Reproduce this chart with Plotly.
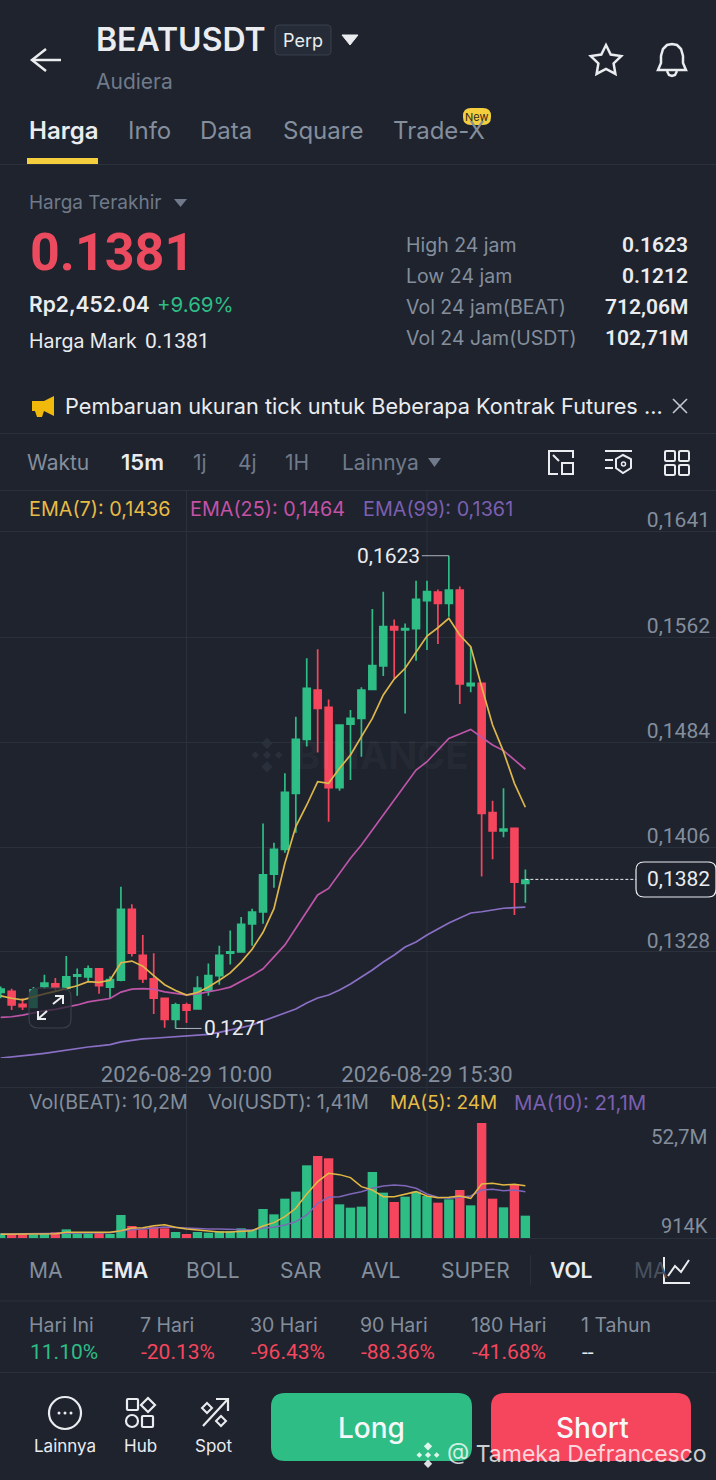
import math
import pandas as pd
import plotly.graph_objs as go

W, H = 716, 1480
FONT = 'Inter'
NUM = 'Roboto'
BG = '#1E232E'
GRID = '#2B313B'
UP = '#2EBD85'
DOWN = '#F6465D'
GREY = '#848E9C'
DIM = '#707A8A'
WHITE = '#EAECEF'
YELLOW = '#E6BC45'
PINK = '#C452A6'
PURPLE = '#7B5FB0'

# candles, 15m, first one is 05:45
times = pd.date_range('2026-08-29 05:45', periods=49, freq='15min')
opens = [.12978, .12986, .12890, .12867, .13023, .13043, .13011, .13099, .13094, .13154,
         .13018, .13069, .13597, .13255, .13079, .12935, .12777, .12885, .12855, .12993,
         .13104, .13270, .13280, .13489, .13577, .13859, .14044, .14461, .14863, .15230,
         .15101, .14503, .14975, .15019, .15235, .15409, .15702, .15677, .15687, .15895,
         .15960, .15875, .15975, .15262, .15280, .14317, .14181, .14200, .13790]
highs = [.13023, .13006, .12935, .13018, .13109, .13086, .13250, .13157, .13179, .13154,
         .13099, .13766, .13635, .13406, .13270, .12935, .12902, .12902, .13099, .13194,
         .13325, .13439, .13539, .13602, .14236, .14093, .14610, .15031, .15466, .15533,
         .15160, .14969, .15082, .15250, .15834, .15962, .15756, .15726, .16044, .16044,
         .15979, .16230, .16000, .15553, .15280, .14406, .14498, .14205, .13894]
lows = [.12935, .12847, .12847, .12867, .13003, .12986, .12993, .12953, .13061, .12968,
        .12935, .13061, .13245, .13048, .12817, .12716, .12710, .12751, .12855, .12953,
        .13036, .13187, .13280, .13325, .13489, .13758, .14019, .14168, .14809, .14764,
        .14250, .14480, .14560, .14734, .15230, .15335, .15317, .15056, .15448, .15528,
        .15573, .15776, .15126, .15213, .13841, .13970, .14133, .13555, .13646]
closes = [.13003, .12885, .12872, .12998, .13048, .13018, .13094, .13109, .13154, .13028,
          .13074, .13597, .13270, .13079, .12935, .12777, .12885, .12847, .13011, .13104,
          .13255, .13280, .13486, .13577, .13854, .14043, .14468, .14863, .15243, .15094,
          .14503, .14969, .15019, .15230, .15411, .15702, .15677, .15687, .15905, .15962,
          .15875, .15975, .15275, .15280, .14312, .14181, .14195, .13800, .13815]

ema7 = [.12953, .12935, .12923, .12948, .12968, .12986, .13006, .13028, .13059, .13053,
        .13069, .13199, .13212, .13174, .13104, .13036, .12993, .12958, .12978, .13018,
        .13069, .13124, .13204, .13300, .13426, .13602, .13940, .14213, .14374, .14548,
        .14535, .14647, .14746, .14883, .15019, .15193, .15312, .15392, .15515, .15632,
        .15694, .15764, .15640, .15553, .15255, .14969, .14771, .14535, .14357]
ema25 = [.12792, .12797, .12809, .12827, .12842, .12852, .12867, .12885, .12908, .12918,
         .12933, .12981, .13003, .13006, .13003, .12983, .12973, .12960, .12968, .12981,
         .12998, .13018, .13061, .13104, .13154, .13245, .13332, .13456, .13580, .13704,
         .13753, .13865, .13977, .14076, .14188, .14299, .14411, .14522, .14634, .14696,
         .14783, .14870, .14902, .14937, .14878, .14821, .14779, .14709, .14640]
ema99 = [.12490, .12497, .12505, .12515, .12525, .12537, .12550, .12562, .12572, .12580,
         .12590, .12610, .12622, .12632, .12637, .12643, .12646, .12651, .12656, .12666,
         .12681, .12696, .12716, .12736, .12764, .12794, .12825, .12855, .12900, .12937,
         .12959, .12996, .13041, .13093, .13145, .13205, .13257, .13316, .13354, .13406,
         .13451, .13495, .13533, .13570, .13579, .13592, .13605, .13609, .13614]

# volume in millions
volume = [2.14, 1.83, 1.83, 1.68, 1.99, 2.60, 3.97, 2.14, 2.14, 2.44,
          1.83, 10.54, 5.50, 3.97, 5.20, 4.43, 2.75, 1.83, 2.75, 2.44,
          3.06, 3.06, 4.43, 3.67, 13.29, 10.85, 18.03, 21.24, 33.31, 37.59,
          36.52, 15.43, 13.90, 14.36, 30.25, 20.78, 16.50, 18.95, 21.24, 19.25,
          16.20, 17.72, 22.00, 14.97, 52.70, 18.03, 14.06, 24.60, 10.24]
vol_ma5 = [1.68, 1.68, 1.68, 1.68, 1.83, 1.99, 2.60, 2.60, 2.60, 2.60,
           2.60, 3.36, 4.58, 4.74, 5.65, 6.11, 4.89, 4.13, 3.67, 3.06,
           2.75, 2.75, 3.06, 3.36, 5.50, 7.03, 9.78, 13.60, 20.17, 25.82,
           29.64, 29.03, 27.66, 23.53, 22.00, 18.95, 18.95, 20.17, 21.24, 19.25,
           18.49, 18.64, 19.25, 18.18, 24.75, 25.06, 24.30, 24.60, 23.99]
vol_ma10 = [1.83, 1.83, 1.83, 1.83, 1.83, 1.83, 2.14, 2.29, 2.44, 2.44,
            2.44, 3.36, 3.67, 4.13, 4.58, 5.04, 4.74, 4.43, 4.28, 4.13,
            4.13, 3.97, 3.82, 3.67, 4.58, 4.89, 5.96, 7.49, 10.54, 15.89,
            18.64, 18.95, 20.17, 21.24, 22.77, 23.84, 24.30, 23.99, 22.77, 20.17,
            18.64, 18.18, 18.64, 19.25, 22.00, 22.31, 21.70, 22.00, 21.24]

price_ticks = [.1249, .1328, .1406, .1484, .1562, .1641]
price_labels = ['0,1249', '0,1328', '0,1406', '0,1484', '0,1562', '0,1641']
time_ticks = ['2026-08-29 10:00', '2026-08-29 15:30']
last_price = .1382
last_label = '0,1382'


# everything outside the plots is laid out in screen pixels
def fx(x):
    return x / W


def fy(y):
    return 1 - y / H


def path(pts, close=False):
    s = 'M ' + ' L '.join(f'{fx(x):.5f} {fy(y):.5f}' for x, y in pts)
    return s + (' Z' if close else '')


def rrect(x0, y0, x1, y1, r):
    def p(x, y):
        return f'{fx(x):.5f} {fy(y):.5f}'
    return (f'M {p(x0 + r, y0)} L {p(x1 - r, y0)} Q {p(x1, y0)} {p(x1, y0 + r)} '
            f'L {p(x1, y1 - r)} Q {p(x1, y1)} {p(x1 - r, y1)} L {p(x0 + r, y1)} '
            f'Q {p(x0, y1)} {p(x0, y1 - r)} L {p(x0, y0 + r)} Q {p(x0, y0)} {p(x0 + r, y0)} Z')


shapes = []
notes = []


def draw(d, color=None, lw=0, fill=None, layer='above'):
    shapes.append(dict(type='path', xref='paper', yref='paper', path=d, layer=layer,
                       line=dict(color=color or 'rgba(0,0,0,0)', width=lw),
                       fillcolor=fill or 'rgba(0,0,0,0)'))


def hline(y, color=GRID):
    shapes.append(dict(type='line', xref='paper', yref='paper', x0=0, x1=1, y0=fy(y), y1=fy(y),
                       line=dict(color=color, width=1)))


def circle(cx, cy, r, color=None, lw=0, fill=None):
    shapes.append(dict(type='circle', xref='paper', yref='paper',
                       x0=fx(cx - r), x1=fx(cx + r), y0=fy(cy + r), y1=fy(cy - r),
                       line=dict(color=color or 'rgba(0,0,0,0)', width=lw),
                       fillcolor=fill or 'rgba(0,0,0,0)'))


def diamond(cx, cy, r, color=None, lw=0, fill=None, layer='above'):
    draw(path([(cx, cy - r), (cx + r, cy), (cx, cy + r), (cx - r, cy)], True), color, lw, fill, layer)


def logo(cx, cy, s, fill, layer='above'):
    diamond(cx, cy, s * .22, fill=fill, layer=layer)
    diamond(cx, cy - s * .62, s * .3, fill=fill, layer=layer)
    diamond(cx, cy + s * .62, s * .3, fill=fill, layer=layer)
    diamond(cx - s * .62, cy, s * .2, fill=fill, layer=layer)
    diamond(cx + s * .62, cy, s * .2, fill=fill, layer=layer)


def txt(x, y, s, size=19, color=WHITE, anchor='left', weight=400, family=FONT):
    # inter has a bit of side bearing on the left
    if anchor == 'left' and family == FONT:
        x -= 1
    notes.append(dict(xref='paper', yref='paper', x=fx(x), y=fy(y), text=s, showarrow=False,
                      xanchor=anchor, yanchor='middle', borderpad=0,
                      font=dict(family=family, size=size, color=color, weight=weight)))


# header
draw(path([(46, 49), (32, 60), (46, 71)]), WHITE, 2.5)
draw(path([(32, 60), (61, 60)]), WHITE, 2.5)
txt(96, 40, 'BEATUSDT', 32, WHITE, weight=600)
draw(rrect(275, 25, 331, 55, 4), '#3A414D', 1, '#262C37')
txt(303, 41, 'Perp', 18, WHITE, 'center')
draw(path([(342, 35), (358, 35), (350, 45)], True), WHITE, 1, WHITE)
txt(96, 82, 'Audiera', 21, DIM)
star = []
for i in range(10):
    r = 16 if i % 2 == 0 else 8
    a = -math.pi / 2 + i * math.pi / 5
    star.append((606 + r * math.cos(a), 61 + r * math.sin(a)))
draw(path(star, True), WHITE, 2.5)
draw(path([(658, 70), (661, 63), (661, 56), (663, 49), (667, 45), (672, 44), (677, 45), (681, 49),
           (683, 56), (683, 63), (686, 70)], True), WHITE, 2.5)
draw(path([(667, 71), (669, 75), (672, 76), (675, 75), (677, 71)]), WHITE, 2.5)

# tabs
txt(29, 130, 'Harga', 24, WHITE, weight=600)
for x, s in [(128, 'Info'), (200, 'Data'), (283, 'Square'), (393, 'Trade-X')]:
    txt(x, 130, s, 24, GREY)
draw(rrect(463, 108, 491, 125, 8), fill='#F5CE3E')
txt(477, 117, 'New', 11, '#2A2A20', 'center')
draw(path([(27, 158), (98, 158), (98, 164), (27, 164)], True), fill='#F5CE3E')
hline(164.5)

# price block
txt(29, 203, 'Harga Terakhir', 19, DIM)
draw(path([(174, 199), (187, 199), (180.5, 207)], True), fill=DIM)
txt(29, 252, '0.1381', 52, '#EC4A5E', weight=700, family=NUM)
txt(29, 304, 'Rp2,452.04', 21, WHITE, weight=600)
txt(157, 304, '+9.69%', 20.5, UP)
txt(29, 341, 'Harga Mark', 19.5, WHITE)
txt(144, 341, '0.1381', 21, WHITE, family=NUM)
stat_names = ['High 24 jam', 'Low 24 jam', 'Vol 24 jam(BEAT)', 'Vol 24 Jam(USDT)']
stat_vals = ['0.1623', '0.1212', '712,06M', '102,71M']
for y, a, b in zip([245, 276, 307, 338], stat_names, stat_vals):
    txt(406, y, a, 19.5, GREY)
    txt(689, y, b, 21, WHITE, 'right', 600, NUM)

# notice
draw(path([(32, 401), (44, 401), (54, 396), (54, 416), (44, 411), (42, 417), (37, 417), (35, 411), (32, 411)], True),
     fill='#F0B90B')
txt(65, 406, 'Pembaruan ukuran tick untuk Beberapa Kontrak Futures ...', 21.7, WHITE)
draw(path([(673, 399), (687, 413)]), '#C4C9D1', 1.6)
draw(path([(687, 399), (673, 413)]), '#C4C9D1', 1.6)
hline(433.5)

# interval row
txt(27, 462, 'Waktu', 21, GREY)
txt(121, 462, '15m', 22, WHITE, weight=600)
for x, s in [(193, '1j'), (238, '4j'), (285, '1H'), (342, 'Lainnya')]:
    txt(x, 462, s, 21, DIM)
draw(path([(428, 458), (441, 458), (434.5, 467)], True), fill=DIM)
draw(path([(558, 474), (549, 474), (549, 451), (573, 451), (573, 458)]), WHITE, 2)
draw(path([(562, 463), (573, 463), (573, 474), (562, 474)], True), WHITE, 2)
draw(path([(553, 455), (559, 461)]), WHITE, 2)
draw(path([(605, 451), (632, 451)]), WHITE, 2)
draw(path([(605, 460), (613, 460)]), WHITE, 2)
draw(path([(605, 468), (613, 468)]), WHITE, 2)
draw(path([(623, 455), (631, 459), (631, 468), (623, 473), (616, 468), (616, 459)], True), WHITE, 2)
circle(623.5, 464, 2, WHITE, 1.5)
for x0, y0 in [(665, 451), (679, 451), (665, 465), (679, 465)]:
    draw(rrect(x0, y0, x0 + 10, y0 + 10, 1.5), WHITE, 2)
hline(490.5)

# chart legends
txt(29, 509, 'EMA(7): 0,1436', 19.8, YELLOW)
txt(190, 509, 'EMA(25): 0,1464', 19.8, PINK)
txt(363, 509, 'EMA(99): 0,1361', 19.8, PURPLE)
txt(29, 1102, 'Vol(BEAT): 10,2M', 19.6, GREY)
txt(208, 1102, 'Vol(USDT): 1,41M', 19.8, GREY)
txt(390, 1102, 'MA(5): 24M', 19, YELLOW)
txt(514, 1102, 'MA(10): 21,1M', 20.5, PURPLE)
txt(709, 1137, '52,7M', 20.5, GREY, 'right', family=NUM)
txt(709, 1226, '914K', 20, GREY, 'right', family=NUM)
hline(1087.5)
hline(1238.5)

# watermark behind the candles
logo(267, 755, 19, '#2A303B', layer='below')
txt(295, 755, 'BINANCE', 38, 'rgba(255,255,255,.045)', weight=700)

# indicator row
for x, s in [(29, 'MA'), (186, 'BOLL'), (280, 'SAR'), (361, 'AVL'), (441, 'SUPER')]:
    txt(x, 1270, s, 21, GREY)
txt(101, 1270, 'EMA', 21, WHITE, weight=600)
txt(550, 1270, 'VOL', 21, WHITE, weight=600)
txt(634, 1270, 'MA', 21, '#4A515E')
draw(path([(530.5, 1255), (530.5, 1285)]), GRID, 1)
draw(path([(664, 1257), (664, 1283), (690, 1283)]), WHITE, 2)
draw(path([(668, 1276), (675, 1266), (681, 1272), (689, 1260)]), WHITE, 2)
hline(1301)

# performance row
perf_names = ['Hari Ini', '7 Hari', '30 Hari', '90 Hari', '180 Hari', '1 Tahun']
perf_vals = ['11.10%', '-20.13%', '-96.43%', '-88.36%', '-41.68%', '--']
perf_cols = [UP, DOWN, DOWN, DOWN, DOWN, WHITE]
for x, a, b, c in zip([29, 140, 250, 360, 471, 581], perf_names, perf_vals, perf_cols):
    txt(x, 1325, a, 19.5, GREY)
    txt(x, 1352, b, 21, c, family=NUM)
hline(1372.5)

# bottom bar
circle(65, 1413, 16, WHITE, 2.2)
for x in [59, 65, 71]:
    circle(x, 1413, 1.5, fill=WHITE)
draw(rrect(127, 1399, 138, 1410, 1), WHITE, 2.2)
diamond(148, 1405, 7, WHITE, 2.2)
circle(132, 1421, 6, WHITE, 2.2)
draw(rrect(142, 1416, 153, 1427, 1), WHITE, 2.2)
draw(path([(203, 1426), (228, 1399)]), WHITE, 2.2)
draw(path([(216, 1399), (228, 1399), (228, 1411)]), WHITE, 2.2)
diamond(207, 1408, 5, WHITE, 2)
diamond(221, 1421, 5, WHITE, 2)
txt(65, 1446, 'Lainnya', 17, WHITE, 'center')
txt(140, 1446, 'Hub', 17, WHITE, 'center')
txt(214, 1446, 'Spot', 17, WHITE, 'center')
draw(rrect(271, 1393, 472, 1461, 14), fill=UP)
draw(rrect(491, 1393, 691, 1461, 14), fill=DOWN)
txt(372, 1428, 'Long', 28, '#F5F7F8', 'center', 500)
txt(592, 1428, 'Short', 28, '#F5F7F8', 'center', 500)
logo(428, 1455, 14, 'rgba(255,255,255,.85)')
txt(447, 1454, '@ Tameka Defrancesco', 23, 'rgba(255,255,255,.78)')

# fullscreen button over the chart
draw(rrect(29, 988, 71, 1028, 9), '#3A404B', 1.2, 'rgba(30,35,46,.72)')
draw(path([(38, 1019), (47, 1011)]), WHITE, 2)
draw(path([(38, 1011), (38, 1019), (46, 1019)]), WHITE, 2)
draw(path([(53, 1004), (63, 996)]), WHITE, 2)
draw(path([(55, 996), (63, 996), (63, 1004)]), WHITE, 2)

# last price tag
draw(rrect(636, 862, 716, 897, 8), WHITE, 1.2, BG)
notes.append(dict(xref='paper', yref='y', x=fx(678), y=last_price, text=last_label, showarrow=False,
                  xanchor='center', yanchor='middle', font=dict(family=NUM, size=21, color=WHITE)))
shapes.append(dict(type='line', xref='x', yref='y', x0=times[-1], x1='2026-08-29 20:17',
                   y0=last_price, y1=last_price, line=dict(color=WHITE, width=1, dash='3px,2px')))

# time grid runs through both panels
for t in time_ticks:
    shapes.append(dict(type='line', xref='x', yref='paper', x0=t, x1=t, y0=fy(1238), y1=fy(491),
                       layer='below', line=dict(color=GRID, width=1)))

# high and low callouts
notes.append(dict(x=times[highs.index(max(highs))], y=max(highs), xref='x', yref='y',
                  text='0,1623', ax=-27, ay=0, xanchor='right', yanchor='middle',
                  showarrow=True, arrowhead=0, arrowwidth=1, arrowcolor='#AEB4BC',
                  font=dict(family=NUM, size=21, color=WHITE)))
notes.append(dict(x=times[lows.index(min(lows))], y=min(lows), xref='x', yref='y',
                  text='0,1271', ax=26, ay=0, xanchor='left', yanchor='middle',
                  showarrow=True, arrowhead=0, arrowwidth=1, arrowcolor='#AEB4BC',
                  font=dict(family=NUM, size=21, color=WHITE)))

fig = go.Figure()
fig.add_trace(go.Candlestick(
    x=times, open=opens, high=highs, low=lows, close=closes,
    increasing=dict(line=dict(color=UP, width=1.7), fillcolor=UP),
    decreasing=dict(line=dict(color=DOWN, width=1.7), fillcolor=DOWN),
    whiskerwidth=0, xaxis='x', yaxis='y',
))
for vals, col in [(ema99, '#8A6FC4'), (ema25, '#BE55A8'), (ema7, '#DDB64C')]:
    fig.add_trace(go.Scatter(x=times, y=vals, mode='lines', line=dict(color=col, width=1.7),
                             xaxis='x', yaxis='y'))
bar_cols = [UP if c >= o else DOWN for o, c in zip(opens, closes)]
fig.add_trace(go.Bar(x=times, y=volume, marker=dict(color=bar_cols, line=dict(width=0)),
                     xaxis='x2', yaxis='y2'))
fig.add_trace(go.Scatter(x=times, y=vol_ma10, mode='lines', line=dict(color='#7F66B8', width=1.5),
                         xaxis='x2', yaxis='y2'))
fig.add_trace(go.Scatter(x=times, y=vol_ma5, mode='lines', line=dict(color='#E3B944', width=1.5),
                         xaxis='x2', yaxis='y2'))

x_range = ['2026-08-29 05:44:03', '2026-08-29 22:06:36']
fig.update_layout(
    width=W, height=H, autosize=False,
    margin=dict(l=0, r=0, t=0, b=0),
    paper_bgcolor=BG, plot_bgcolor=BG,
    showlegend=False, boxgap=0.1, bargap=0.14,
    shapes=shapes, annotations=notes,
    xaxis=dict(domain=[0, 1], range=x_range, type='date', anchor='y', rangeslider=dict(visible=False),
               tickvals=time_ticks, tickformat='%Y-%m-%d %H:%M', showgrid=False, zeroline=False,
               showline=False, ticks='', ticklabelstandoff=1,
               tickfont=dict(family=NUM, size=22, color=GREY)),
    # the axis goes a little above the top tick so its label is not dropped
    yaxis=dict(domain=[fy(1058), fy(500)], range=[.1249, .16645], side='right', anchor='x',
               tickvals=price_ticks, ticktext=price_labels, ticklabelposition='inside top',
               ticklabelstandoff=3, ticklabelshift=3,
               tickfont=dict(family=NUM, size=21, color=GREY),
               gridcolor=GRID, gridwidth=1, zeroline=False, showline=False, ticks=''),
    xaxis2=dict(domain=[0, 1], range=x_range, type='date', anchor='y2', matches='x',
                showticklabels=False, showgrid=False, zeroline=False, showline=False, ticks=''),
    yaxis2=dict(domain=[fy(1238), fy(1123)], range=[0, 52.7], anchor='x2', side='right',
                showticklabels=False, showgrid=False, zeroline=False, showline=False, ticks=''),
)

fig.write_html('out.html', config={'displayModeBar': False},
               post_script="document.body.style.margin='0';document.body.style.background='#1E232E';")
